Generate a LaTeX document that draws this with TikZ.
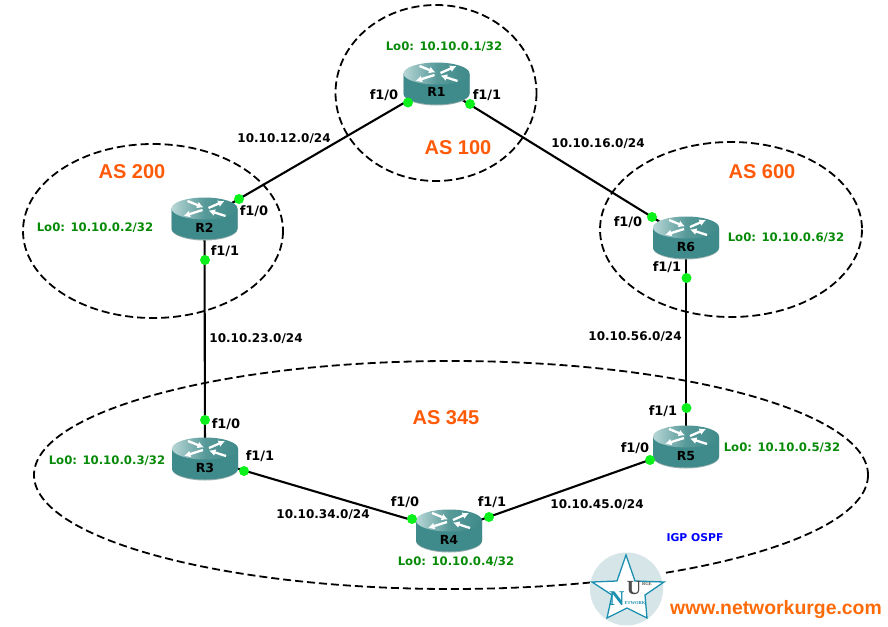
\documentclass[tikz,border=0pt]{standalone}
\usepackage{fontspec}
\setmainfont{DejaVu Sans}
\newfontfamily\arialfont{Liberation Sans}
\newfontfamily\logofont{Liberation Serif}
\usetikzlibrary{backgrounds,arrows.meta}
\definecolor{routerteal}{HTML}{3F8A8A}
\definecolor{routerlight}{HTML}{B8D6D6}
\definecolor{routerrim}{HTML}{9DB0B0}
\definecolor{asorange}{HTML}{FF5A08}
\definecolor{weborange}{HTML}{FF6A08}
\definecolor{loopgreen}{HTML}{078A07}
\definecolor{portgreen}{HTML}{0CF01C}
\definecolor{logocircle}{HTML}{D6E6E8}
\definecolor{logostar}{HTML}{1A8FB0}
\tikzset{
	link/.style={line width=2.1pt,black},
	zone/.style={line width=1.8pt,black,dash pattern=on 8pt off 4pt},
	dot/.style={circle,fill=portgreen,inner sep=0pt,minimum size=10pt},
	port/.style={font=\bfseries\fontsize{13}{13}\selectfont,black,inner sep=0pt},
	subnet/.style={font=\bfseries\fontsize{12}{12}\selectfont,black,inner sep=0pt},
	loop/.style={font=\bfseries\fontsize{11.7}{12}\selectfont,loopgreen,inner sep=0pt},
	asname/.style={font=\arialfont\bfseries\fontsize{20}{20}\selectfont,asorange,inner sep=0pt},
	routerarrow/.style={white,line width=2.3pt,-{Latex[length=6.5pt,width=7pt]}},
}
\newcommand{\router}[4]{
	\begin{scope}[shift={(#2,#3)}]
		\fill[routerrim] (-33,-10) -- (-33,10) arc[x radius=33,y radius=11.5,start angle=180,end angle=0] -- (33,-10) -- cycle;
		\fill[routerteal] (-33,-10) -- (-33,9.5) arc[x radius=33,y radius=11,start angle=180,end angle=0] -- (33,-10) -- cycle;
		\shade[left color=routerlight,right color=routerteal,middle color=routerteal!80!routerlight] (0,-10.5) ellipse[x radius=33,y radius=11];
		\draw[routerarrow] (4,-11) -- (20,-18);
		\draw[routerarrow] (-2,-9) -- (-21,-3);
		\draw[routerarrow] (-17,-18) -- (-1,-11.5);
		\draw[routerarrow] (21,-3) -- (4,-8.5);
	\end{scope}
	\node[font=\bfseries\fontsize{12.5}{13}\selectfont,inner sep=0pt,minimum width=66pt,minimum height=44pt] (#1) at (#2,#3) {\raisebox{-13pt}[0pt][0pt]{#4}};
}
\begin{document}
\begin{tikzpicture}[x=1pt,y=-1pt]
	\useasboundingbox (0,0) rectangle (888,626);
	\router{r1}{436.5}{84}{R1}
	\router{r2}{204.5}{219}{R2}
	\router{r3}{205}{459}{R3}
	\router{r4}{449}{531}{R4}
	\router{r5}{686}{447}{R5}
	\router{r6}{686}{238}{R6}
	\node[dot] (d1a) at (408,102.5) {};
	\node[dot] (d1b) at (470,104) {};
	\node[dot] (d2a) at (239,199) {};
	\node[dot] (d2b) at (205,260) {};
	\node[dot] (d3a) at (205,420) {};
	\node[dot] (d3b) at (244,471) {};
	\node[dot] (d4a) at (412,519) {};
	\node[dot] (d4b) at (489,517) {};
	\node[dot] (d5a) at (650,460) {};
	\node[dot] (d5b) at (686.5,408) {};
	\node[dot] (d6a) at (686.5,278) {};
	\node[dot] (d6b) at (652,217) {};
	\begin{scope}[on background layer]
		\draw[zone] (436,93) ellipse[x radius=100.5,y radius=88];
		\draw[zone] (153,231) ellipse[x radius=130,y radius=87];
		\draw[zone] (731,229.5) ellipse[x radius=131,y radius=87.5];
		\draw[zone] (451,475) ellipse[x radius=417,y radius=114];
		\draw[link] (r1.center) -- (r2.center);
		\draw[link] (r2.center) -- (r3.center);
		\draw[link] (r3.center) -- (r4.center);
		\draw[link] (r4.center) -- (r5.center);
		\draw[link] (r5.center) -- (r6.center);
		\draw[link] (r6.center) -- (r1.center);
	\end{scope}
	\node[port] (p1a) at (384,95) {f1/0};
	\node[port] (p1b) at (487,95) {f1/1};
	\node[port] (p2a) at (254,211) {f1/0};
	\node[port] (p2b) at (225,251) {f1/1};
	\node[port] (p3a) at (226,424) {f1/0};
	\node[port] (p3b) at (260,456) {f1/1};
	\node[port] (p4a) at (405,502) {f1/0};
	\node[port] (p4b) at (492,502) {f1/1};
	\node[port] (p5a) at (635,448) {f1/0};
	\node[port] (p5b) at (663,411) {f1/1};
	\node[port] (p6a) at (628,222) {f1/0};
	\node[port] (p6b) at (667,267) {f1/1};
	\node[subnet] (n12) at (284,139) {10.10.12.0/24};
	\node[subnet] (n16) at (598,144) {10.10.16.0/24};
	\node[subnet] (n23) at (256,339) {10.10.23.0/24};
	\node[subnet] (n56) at (635,337) {10.10.56.0/24};
	\node[subnet] (n34) at (323,515) {10.10.34.0/24};
	\node[subnet] (n45) at (597,505) {10.10.45.0/24};
	\node[loop] (l1) at (444,47) {Lo0: 10.10.0.1/32};
	\node[loop] (l2) at (95,228) {Lo0: 10.10.0.2/32};
	\node[loop] (l3) at (107,461) {Lo0: 10.10.0.3/32};
	\node[loop] (l4) at (456,562) {Lo0: 10.10.0.4/32};
	\node[loop] (l5) at (782,448) {Lo0: 10.10.0.5/32};
	\node[loop] (l6) at (786,238) {Lo0: 10.10.0.6/32};
	\node[asname] (as100) at (458,148) {AS 100};
	\node[asname] (as200) at (132,172) {AS 200};
	\node[asname] (as600) at (762,172) {AS 600};
	\node[asname] (as345) at (446,418) {AS 345};
	\node[font=\bfseries\fontsize{10.8}{11}\selectfont,blue,inner sep=0pt] (igp) at (695,538) {IGP OSPF};
	\node[font=\arialfont\bfseries\fontsize{19.4}{20}\selectfont,weborange,inner sep=0pt] (web) at (776,610) {www.networkurge.com};
	\fill[white] (590,552) rectangle (665,626);
	\fill[logocircle] (626.5,589) circle (36.5);
	\filldraw[draw=logostar,fill=white,line width=1.3pt] (626,555) -- (617,581) -- (592,582) -- (612,595) -- (607,618) -- (627,608) -- (647,618) -- (645,595) -- (664,582) -- (635,581) -- cycle;
	\node[font=\logofont\bfseries\fontsize{21}{21}\selectfont,logostar,inner sep=0pt] (logon) at (617,599) {N};
	\node[font=\logofont\bfseries\fontsize{20}{20}\selectfont,black!70,inner sep=0pt] (logou) at (634,588) {U};
	\node[font=\logofont\bfseries\fontsize{4.5}{5}\selectfont,black!70,inner sep=0pt] (logor) at (647,584) {RGE};
	\node[font=\logofont\bfseries\fontsize{4.5}{5}\selectfont,logostar,inner sep=0pt] (logoe) at (635,603) {ETWORK};
\end{tikzpicture}
\end{document}
